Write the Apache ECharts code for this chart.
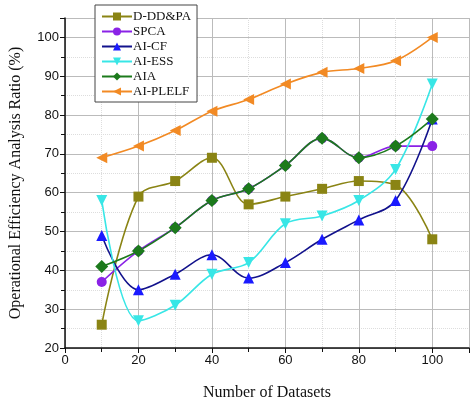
<!DOCTYPE html>
<html>
<head>
<meta charset="utf-8">
<script src="https://cdn.jsdelivr.net/npm/echarts@6/dist/echarts.min.js"></script>
<style>
  html, body { margin: 0; padding: 0; background: #fff; }
  #chart { width: 474px; height: 406px; }
</style>
</head>
<body>
<div id="chart"></div>
<script>
// x values (number of datasets)
const xData = [10, 20, 30, 40, 50, 60, 70, 80, 90, 100];
// series values
const dddpa = [26, 59, 63, 69, 57, 59, 61, 63, 62, 48];
const spca = [37, 45, 51, 58, 61, 67, 74, 69, 72, 72];
const aicf = [49, 35, 39, 44, 38, 42, 48, 53, 58, 79];
const aiess = [58, 27, 31, 39, 42, 52, 54, 58, 66, 88];
const aia = [41, 45, 51, 58, 61, 67, 74, 69, 72, 79];
const aiplelf = [69, 72, 76, 81, 84, 88, 91, 92, 94, 100];

const pairs = arr => arr.map((v, i) => [xData[i], v]);

// 线条公共设置
function mk(name, data, color, symbol, rotate, size, lineColor) {
    return {
        name: name,
        type: 'line',
        smooth: 0.35,
        data: pairs(data),
        symbol: symbol,
        symbolRotate: rotate,
        symbolSize: size,
        itemStyle: { color: color },
        lineStyle: { color: lineColor || color, width: 1.6 }
    };
}

const chart = echarts.init(document.getElementById('chart'));
chart.setOption({
    animation: false,
    grid: { left: 63, right: 5, top: 18, bottom: 55 },
    legend: {
        orient: 'vertical',
        left: 95,
        top: 5,
        padding: [5, 6, 4, 6],
        itemGap: 2,
        itemWidth: 30,
        itemHeight: 10,
        borderColor: '#444',
        borderWidth: 1,
        backgroundColor: '#fff',
        textStyle: { fontFamily: 'Liberation Serif', fontSize: 13, color: '#111', padding: [0, 0, 0, -4] },
        data: ['D-DD&PA', 'SPCA', 'AI-CF', 'AI-ESS', 'AIA', 'AI-PLELF']
    },
    xAxis: {
        type: 'value',
        min: 0,
        max: 110,
        interval: 20,
        name: 'Number of Datasets',
        nameLocation: 'middle',
        nameGap: 37,
        nameTextStyle: { fontFamily: 'Liberation Serif', fontSize: 16, color: '#111' },
        axisLine: { lineStyle: { color: '#111', width: 1.5 } },
        axisTick: { show: true, length: 5, lineStyle: { color: '#111' } },
        minorTick: { show: true, splitNumber: 2, length: 4, lineStyle: { color: '#111' } },
        axisLabel: {
            fontFamily: 'Liberation Sans', fontSize: 13, color: '#111', margin: 6,
            formatter: v => (v > 100 ? '' : v)
        },
        splitLine: { show: true, lineStyle: { color: '#bbb', width: 1 } },
        minorSplitLine: { show: true, lineStyle: { color: '#ddd', type: 'dotted' } }
    },
    yAxis: {
        type: 'value',
        min: 20,
        max: 105,
        interval: 10,
        name: 'Operational Efficiency Analysis Ratio (%)',
        nameLocation: 'middle',
        nameGap: 41,
        nameTextStyle: { fontFamily: 'Liberation Serif', fontSize: 16, color: '#111' },
        axisLine: { show: true, lineStyle: { color: '#111', width: 1.5 } },
        axisTick: { show: true, length: 5, lineStyle: { color: '#111' } },
        minorTick: { show: true, splitNumber: 2, length: 4, lineStyle: { color: '#111' } },
        axisLabel: {
            fontFamily: 'Liberation Sans', fontSize: 13, color: '#111', margin: 6,
            formatter: v => (v > 100 ? '' : v)
        },
        splitLine: { show: true, lineStyle: { color: '#bbb', width: 1 } },
        minorSplitLine: { show: true, lineStyle: { color: '#ddd', type: 'dotted' } }
    },
    series: [
        mk('D-DD&PA', dddpa, '#8a8414', 'rect', 0, 10),
        mk('SPCA', spca, '#8a22e6', 'circle', 0, 10),
        mk('AI-CF', aicf, '#1a1aff', 'triangle', 0, 11, '#12128c'),
        mk('AI-ESS', aiess, '#38e6e6', 'triangle', 180, 11),
        mk('AIA', aia, '#1c7a1c', 'diamond', 0, 13),
        mk('AI-PLELF', aiplelf, '#f28a24', 'triangle', 90, 11)
    ]
});
</script>
</body>
</html>
